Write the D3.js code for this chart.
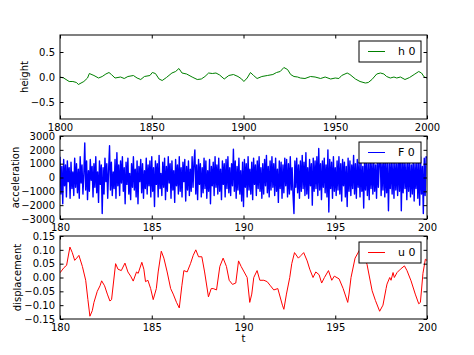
<!DOCTYPE html>
<html><head><meta charset="utf-8">
<script src="https://cdn.jsdelivr.net/npm/d3@7"></script>
<style>body{margin:0;background:#fff} text{font-family:"DejaVu Sans",sans-serif}</style>
</head><body>
<svg id="c" width="474" height="355"></svg>
<script>
// ---- data ----
const hYears = [1800,1802,1805,1807,1809,1810,1813,1815,1816,1818.5,1821,1823,1825,1826.7,1828,1830,1833,1835,1837,1840,1842,1844,1846,1849,1850.3,1852,1854,1855.7,1858,1861,1863,1864.8,1866.5,1869,1872,1874.8,1877,1879,1881,1883,1885,1887,1889.5,1892,1894.5,1897,1899,1900.2,1902,1903.8,1905.5,1907.4,1910,1913,1916,1918,1920,1922,1924,1925.7,1927.5,1929.5,1931,1933.5,1936.5,1939,1942,1944.5,1947.5,1950,1952,1953.5,1956.5,1958,1961,1963.5,1966.4,1968,1970,1972.6,1974.6,1976.5,1978,1980,1982,1983.5,1985.5,1988,1990.5,1993,1995.5,1997,1998.5,2000];
const hVals  = [0.0,-0.02,-0.09,-0.09,-0.11,-0.15,-0.09,-0.02,0.07,0.03,-0.02,0.01,0.06,0.09,0.05,-0.02,0.0,-0.03,0.01,0.03,-0.02,-0.05,0.01,0.03,0.09,0.07,-0.04,-0.07,-0.01,0.08,0.11,0.17,0.08,0.06,0.0,-0.05,-0.04,0.01,0.08,0.07,0.08,0.04,-0.04,0.03,0.05,0.01,-0.04,-0.09,-0.02,0.09,0.03,-0.03,0.01,0.03,0.05,0.09,0.11,0.19,0.15,0.05,0.01,0.0,-0.02,-0.03,0.01,0.0,-0.03,0.0,-0.04,-0.02,-0.03,0.03,0.08,0.05,-0.04,-0.09,-0.12,-0.11,-0.05,0.06,0.08,0.06,0.01,-0.02,0.0,-0.02,0.0,-0.05,-0.01,0.05,0.11,0.08,0.0,-0.02];

const fStart = 180, fStep = 0.05;
const fVals = [
1500,-1200,800,-1900,1300,-600,900,-1400,1200,-300,700,-1500,1100,-800,400,-1300,1400,-700,1000,-1100,
600,-1500,1500,-400,900,-1200,300,2500,-900,1200,-1600,500,-1000,1300,-200,800,-1400,1000,-700,1500,
-1100,400,-1800,1200,-500,900,-2600,700,-1200,1400,-300,1000,-1500,600,2300,-900,1100,-1300,400,-800,
1300,-1500,1800,-600,900,-1300,1200,-400,1500,-1000,700,-1900,1100,-500,1400,-1200,300,-1600,1000,-700,
1500,-900,600,-1400,1200,-1900,800,-300,1300,-1100,1000,-1500,500,-800,1400,-1200,900,-600,1200,-1400,
1500,-1000,700,-2100,1200,-500,1000,-1400,1600,-800,300,-1300,1100,-700,1400,-1600,800,-1000,1500,-400,
1000,-1500,1200,-900,500,-1800,1300,-600,900,-1200,1500,-1000,700,-1400,1100,-300,1300,-1700,800,-900,
1200,-1300,600,-1000,1500,-700,1100,2000,-1200,900,-1600,1300,-500,1000,-1400,700,-1100,1400,-800,1200,
-1500,500,-1000,1300,-1900,800,-600,1100,-1300,1500,-700,900,-1200,1400,-1000,600,-1600,1200,-500,1000,
-1400,1300,-800,1500,-1100,700,-1300,1000,-600,2050,-1000,1200,-1500,800,-900,1400,-1200,500,-1700,1100,
-2100,1300,-700,1000,-1400,1500,-900,600,-1200,1100,-1600,1400,-500,900,-1300,1200,-800,1500,-1000,700,
-1500,1000,-1200,1300,-600,1600,-1100,800,-1400,1200,-900,1500,-700,1000,-1300,1400,-1000,600,-1800,1200,
-800,1100,-1500,900,-1100,1400,-600,1300,-1400,1000,-1200,1500,-900,700,-1300,-2600,1200,-700,1400,-1100,
900,-1500,1200,-1000,1600,-800,1100,-1300,1800,-1200,700,-1500,1300,-600,1000,-2000,1400,-1000,1200,-800,
1500,-1300,2100,-900,1000,-1600,1200,-700,1400,-1100,900,-1400,2000,-2500,1300,-800,1100,-1500,1500,-1000,
700,-1300,1200,-900,1500,-1200,1000,-1700,1300,-600,1100,-1400,800,-2100,1400,-1000,1200,-1300,900,-800,
1600,-1200,1000,-1500,1300,-700,1100,-1400,1200,-1000,800,-2200,1400,-900,1200,-1300,1000,-1600,1500,-800,
1100,-1200,1300,-1000,900,-1500,1400,-700,1200,1800,-1300,1000,-900,1900,-1400,1100,-1100,1300,-2400,1000,
-800,1400,-1200,1100,-1500,1300,-900,1000,-1300,1500,-1000,1900,-2400,1200,-1100,1400,-800,1000,-1600,1300,
-1000,1200,-1400,900,-1200,1500,-1700,1000,-800,1300,-1500,1100,-2000,1500,-1200,800,-2600,1400,-1300,1500,1400];

const uTimes = [180.00,180.22,180.36,180.54,180.67,180.80,180.91,181.03,181.22,181.40,181.52,181.63,181.76,181.85,182.03,182.18,182.27,182.43,182.58,182.72,182.81,183.03,183.16,183.34,183.54,183.70,183.85,183.99,184.17,184.26,184.46,184.57,184.66,184.79,184.94,185.08,185.25,185.35,185.52,185.66,185.84,186.03,186.17,186.35,186.50,186.64,186.75,186.93,187.11,187.26,187.40,187.55,187.73,187.88,188.09,188.24,188.35,188.53,188.71,188.89,189.07,189.22,189.40,189.58,189.73,189.87,190.20,190.34,190.45,190.56,190.74,190.89,191.11,191.29,191.47,191.65,191.87,192.12,192.20,192.34,192.52,192.63,192.78,192.99,193.14,193.28,193.47,193.61,193.79,193.94,194.12,194.26,194.41,194.63,194.81,194.95,195.21,195.43,195.68,195.75,195.86,196.08,196.33,196.55,196.73,197.01,197.19,197.42,197.60,197.77,197.82,197.97,198.04,198.15,198.22,198.37,198.55,198.77,198.91,199.13,199.36,199.55,199.64,199.78,199.91,200.04];
const uVals  = [0.017,0.036,0.044,0.110,0.090,0.062,0.070,0.080,0.040,-0.010,-0.080,-0.140,-0.120,-0.090,-0.050,-0.030,-0.012,-0.030,-0.060,-0.085,-0.080,0.050,0.030,0.025,0.052,0.020,0.005,-0.013,0.020,0.015,0.055,0.030,-0.015,-0.010,-0.040,-0.080,-0.040,0.020,0.095,0.070,0.020,-0.040,-0.060,-0.090,-0.110,-0.030,0.025,0.020,0.050,0.080,0.100,0.075,0.075,0.020,-0.070,-0.040,-0.040,-0.045,0.040,0.070,0.040,-0.010,-0.025,-0.020,0.060,0.040,0.000,-0.090,-0.060,0.000,0.025,-0.010,-0.010,-0.015,-0.030,-0.045,-0.040,-0.100,-0.115,-0.060,0.000,0.050,0.090,0.070,0.080,0.090,0.060,0.030,0.000,0.020,0.010,-0.020,0.000,0.025,-0.010,0.005,-0.005,-0.040,-0.090,-0.060,0.000,0.070,0.100,0.080,0.048,-0.048,-0.083,-0.122,-0.100,-0.040,-0.024,0.000,-0.010,0.018,0.000,0.018,0.030,0.042,0.025,-0.012,-0.060,-0.095,-0.090,0.015,0.066,0.060];

const hXTicks = [1800,1850,1900,1950,2000];
const tXTicks = [180,185,190,195,200];
const hYTicks = [-0.5,0,0.5];
const fYTicks = [-3000,-2000,-1000,0,1000,2000,3000];
const uYTicks = [-0.15,-0.10,-0.05,0,0.05,0.10,0.15];

// ---- drawing ----
const svg = d3.select("#c");
const L = 60, R = 427;
const TK = 3.5;

function panel(o){
  const {top, bottom} = o;
  const x = d3.scaleLinear().domain(o.xd).range([L,R]);
  const y = d3.scaleLinear().domain(o.yd).range([bottom,top]);
  const g = svg.append("g");
  const cid = "clip"+o.id;
  svg.append("clipPath").attr("id",cid).append("rect")
    .attr("x",L).attr("y",top).attr("width",R-L).attr("height",bottom-top);
  const line = d3.line().x(d=>x(d[0])).y(d=>y(d[1]));
  g.append("path").datum(o.data).attr("clip-path",`url(#${cid})`)
    .attr("d",line).attr("fill","none").attr("stroke",o.color)
    .attr("stroke-width",o.sw||1).attr("stroke-linejoin","round");

  const style = a => { a.select(".domain").remove();
    a.selectAll("line").attr("stroke","#000");
    a.selectAll("text").attr("fill","#000").style("font-size","10px").style("font-family","DejaVu Sans"); };
  g.append("g").attr("transform",`translate(0,${bottom})`)
    .call(d3.axisBottom(x).tickValues(o.xt).tickSizeInner(-TK).tickSizeOuter(0).tickPadding(5).tickFormat(d3.format("d"))).call(style);
  g.append("g").attr("transform",`translate(0,${top})`)
    .call(d3.axisTop(x).tickValues(o.xt).tickSizeInner(-TK).tickSizeOuter(0).tickFormat("")).call(style);
  g.append("g").attr("transform",`translate(${L},0)`)
    .call(d3.axisLeft(y).tickValues(o.yt).tickSizeInner(-TK).tickSizeOuter(0).tickPadding(5).tickFormat(d3.format(o.yf))).call(style);
  g.append("g").attr("transform",`translate(${R},0)`)
    .call(d3.axisRight(y).tickValues(o.yt).tickSizeInner(-TK).tickSizeOuter(0).tickFormat("")).call(style);
  g.append("rect").attr("x",L).attr("y",top).attr("width",R-L).attr("height",bottom-top)
    .attr("fill","none").attr("stroke","#000").attr("stroke-width",1);

  g.append("text").attr("transform",`translate(${o.ylx},${(top+bottom)/2}) rotate(-90)`)
    .attr("text-anchor","middle").attr("dy","0.35em").style("font-size","10px").text(o.ylabel);

  // legend
  const bx = R-68, by = top+6;
  const lg = g.append("g");
  lg.append("rect").attr("x",bx).attr("y",by).attr("width",62).attr("height",21)
    .attr("fill","#fff").attr("stroke","#000").attr("stroke-width",1);
  lg.append("line").attr("x1",bx+9).attr("x2",bx+26).attr("y1",by+10.5).attr("y2",by+10.5)
    .attr("stroke",o.color).attr("stroke-width",1);
  lg.append("text").attr("x",bx+39).attr("y",by+10.5).attr("dy","0.36em")
    .style("font-size","11px").text(o.label);
}

panel({id:1, top:35, bottom:119, xd:[1800,2000], yd:[-0.84,0.84], xt:hXTicks, yt:hYTicks, yf:".1f",
  data:hYears.map((t,i)=>[t,hVals[i]]), color:"#008000", label:"h 0", ylabel:"height", ylx:24});
panel({id:2, top:136, bottom:219, xd:[180,200], yd:[-3000,3000], xt:tXTicks, yt:fYTicks, yf:".0f",
  data:fVals.map((v,i)=>[fStart+i*fStep,v]), color:"#0000ff", label:"F 0", ylabel:"acceleration", ylx:15, sw:1.4});
panel({id:3, top:236, bottom:319, xd:[180,200], yd:[-0.15,0.15], xt:tXTicks, yt:uYTicks, yf:".2f",
  data:uTimes.map((t,i)=>[t,uVals[i]]), color:"#ff0000", label:"u 0", ylabel:"displacement", ylx:17});

svg.append("text").attr("x",(L+R)/2).attr("y",342).attr("text-anchor","middle")
  .style("font-size","10px").text("t");
</script>
</body></html>
